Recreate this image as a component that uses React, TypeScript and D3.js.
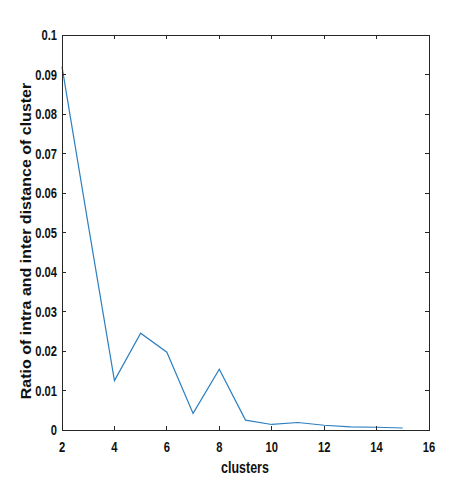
import React from "react";
import * as d3 from "d3";

const clusters = [2, 3, 4, 5, 6, 7, 8, 9, 10, 11, 12, 13, 14, 15];
const ratios = [0.092, 0.052, 0.0125, 0.0245, 0.0197, 0.0042, 0.0154, 0.0025, 0.0014, 0.0019, 0.0012, 0.0008, 0.0007, 0.0005];
const xTicks = [2, 4, 6, 8, 10, 12, 14, 16];
const yTicks = [0, 0.01, 0.02, 0.03, 0.04, 0.05, 0.06, 0.07, 0.08, 0.09, 0.1];
const yTickLabels = ["0", "0.01", "0.02", "0.03", "0.04", "0.05", "0.06", "0.07", "0.08", "0.09", "0.1"];
const xLabel = "clusters";
const yLabel = "Ratio of intra and inter distance of cluster";

const W = 474;
const H = 483;
const L = 62, R = 429, T = 35, B = 430;
const FONT = "'Liberation Sans', Arial, Helvetica, sans-serif";
const AX = "#262626";
const TK = 4;

export default function App() {
  const x = d3.scaleLinear().domain([2, 16]).range([L, R]);
  const y = d3.scaleLinear().domain([0, 0.1]).range([B, T]);
  const line = d3
    .line<number>()
    .x((_, i) => x(clusters[i]))
    .y((d) => y(d));
  const pathD = line(ratios) || "";

  return (
    <svg
      width={W}
      height={H}
      style={{ position: "absolute", left: 0, top: 0, background: "#fff" }}
    >
      <rect x={0} y={0} width={W} height={H} fill="#fff" />
      <path d={pathD} fill="none" stroke="#2c7fc0" strokeWidth={1.2} />
      <rect x={L} y={T} width={R - L} height={B - T} fill="none" stroke={AX} strokeWidth={1} shapeRendering="crispEdges" />
      {xTicks.map((t) => (
        <g key={"x" + t}>
          <line x1={x(t)} x2={x(t)} y1={B} y2={B - TK} stroke={AX} shapeRendering="crispEdges" />
          <line x1={x(t)} x2={x(t)} y1={T} y2={T + TK} stroke={AX} shapeRendering="crispEdges" />
          <text
            transform={`translate(${x(t)},${452}) scale(0.8,1)`}
            textAnchor="middle"
            fontFamily={FONT}
            fontWeight="bold"
            fontSize={14}
            fill="#111"
          >
            {t}
          </text>
        </g>
      ))}
      {yTicks.map((t, i) => (
        <g key={"y" + t}>
          <line x1={L} x2={L + TK} y1={y(t)} y2={y(t)} stroke={AX} shapeRendering="crispEdges" />
          <line x1={R} x2={R - TK} y1={y(t)} y2={y(t)} stroke={AX} shapeRendering="crispEdges" />
          <text
            transform={`translate(${L - 5},${y(t) + 5}) scale(0.8,1)`}
            textAnchor="end"
            fontFamily={FONT}
            fontWeight="bold"
            fontSize={14}
            fill="#111"
          >
            {yTickLabels[i]}
          </text>
        </g>
      ))}
      <text
        transform={`translate(${245},${473}) scale(0.78,1)`}
        textAnchor="middle"
        fontFamily={FONT}
        fontWeight="bold"
        fontSize={16}
        fill="#111"
      >
        {xLabel}
      </text>
      <text
        transform={`translate(31,${241}) rotate(-90) scale(1,0.9)`}
        textAnchor="middle"
        fontFamily={FONT}
        fontWeight="bold"
        fontSize={16}
        fill="#111"
      >
        {yLabel}
      </text>
    </svg>
  );
}
